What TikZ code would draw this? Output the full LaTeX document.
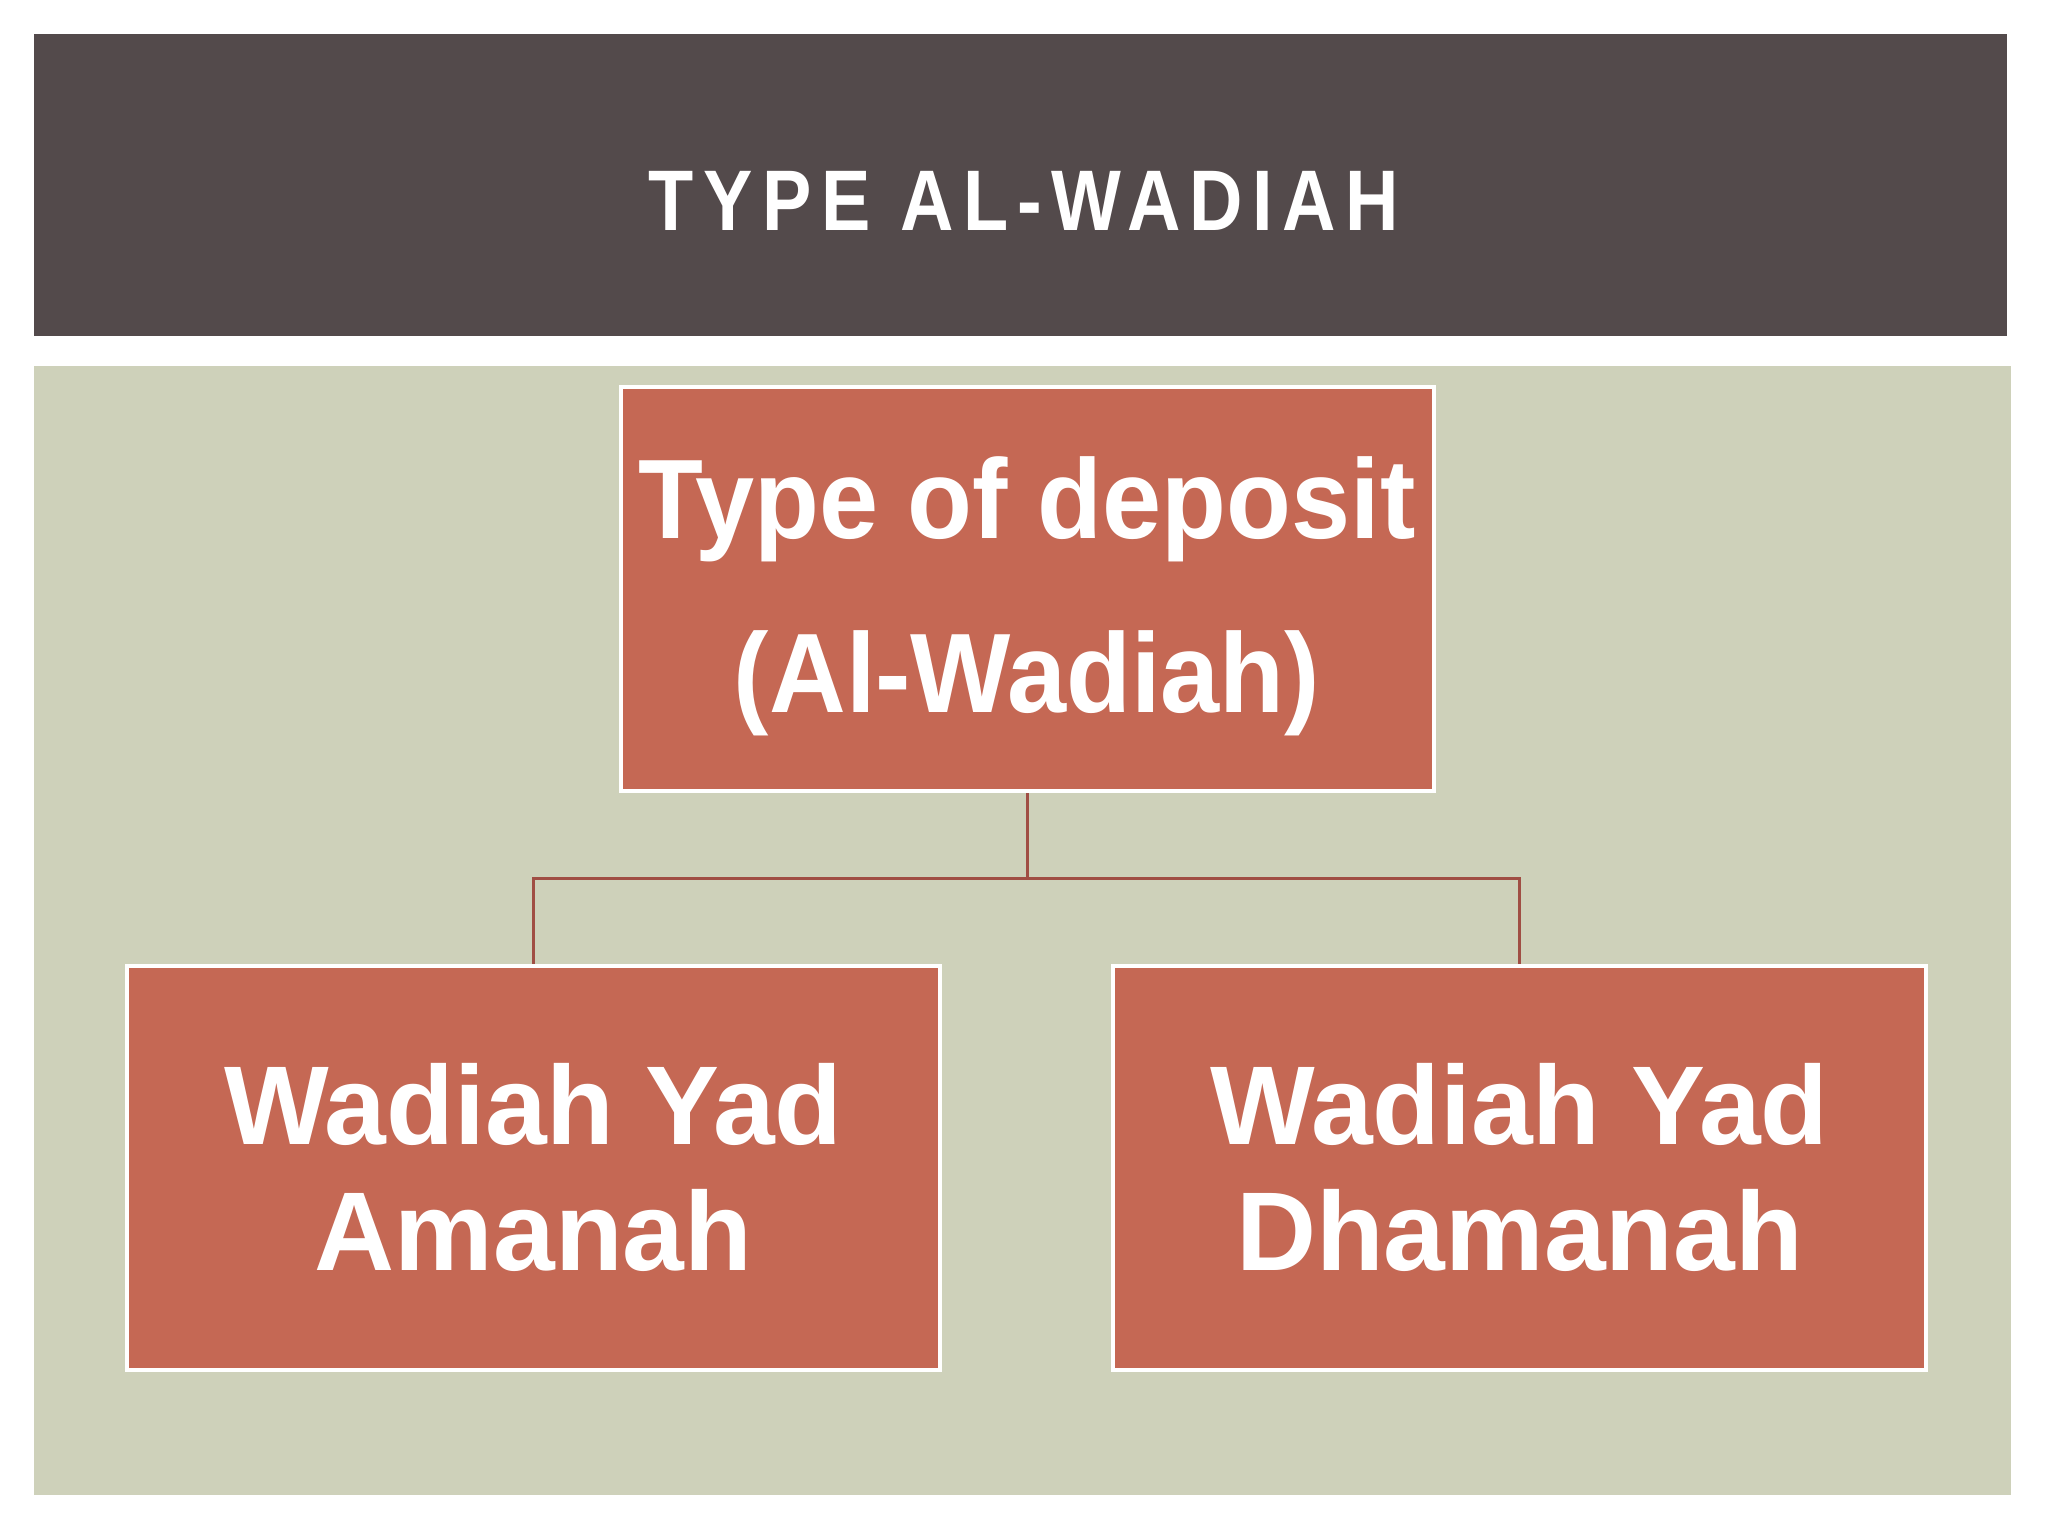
\documentclass[tikz,border=0pt]{standalone}
\usepackage{fontspec}
\setmainfont{Liberation Sans}
\newfontfamily\boxfont{Liberation Sans Bold}[FakeStretch=0.94]
\newfontfamily\subfont{Liberation Sans Bold}[FakeStretch=0.99]
\newfontfamily\titlefont{Liberation Sans Bold}[FakeStretch=0.86,LetterSpace=11]
\definecolor{headerc}{RGB}{83,74,75}
\definecolor{greenc}{RGB}{206,209,186}
\definecolor{boxc}{RGB}{197,104,84}
\definecolor{linkc}{RGB}{160,78,68}
\tikzset{
  boxnode/.style={draw=white, line width=2pt, fill=boxc, text=white,
    minimum width=406.5pt, minimum height=202pt, inner sep=0pt, align=center},
  link/.style={draw=linkc, line width=1.5pt}
}
\begin{document}
\begin{tikzpicture}[x=0.5pt,y=-0.5pt]
\useasboundingbox (0,0) rectangle (2048,1536);
\fill[white] (0,0) rectangle (2048,1536);
\fill[headerc] (34,34) rectangle (2007,336);
\fill[greenc] (34,366) rectangle (2011,1495);
\node[text=white, inner sep=0pt, font=\fontsize{43}{50}\titlefont] (title) at (1024,201) {TYPE AL-WADIAH};
\node[boxnode, font=\fontsize{56.5}{87}\boxfont] (top) at (1027,589) {\rule{0pt}{48pt}Type of deposit\\(Al-Wadiah)};
\node[boxnode, font=\fontsize{56}{63}\subfont] (left) at (533.5,1167.5) {Wadiah Yad\\Amanah};
\node[boxnode, font=\fontsize{56}{63}\subfont] (right) at (1519.5,1167.5) {Wadiah Yad\\Dhamanah};
\coordinate (mid) at (1027,878);
\draw[link] (top.south) -- (mid);
\draw[link] (left.north) |- (mid) -| (right.north);
\end{tikzpicture}
\end{document}
